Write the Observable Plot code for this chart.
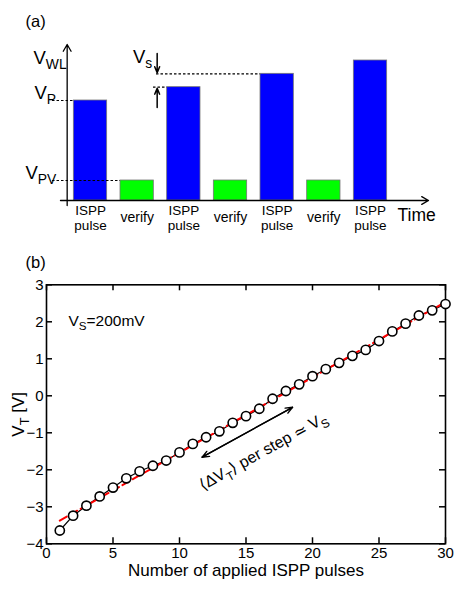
<!DOCTYPE html>
<html>
<head>
<meta charset="utf-8">
<script src="https://cdn.jsdelivr.net/npm/d3@7"></script>
<script src="https://cdn.jsdelivr.net/npm/@observablehq/plot@0.6"></script>
<style>
  html, body { margin: 0; padding: 0; background: #fff; }
  #wrap { position: relative; width: 471px; height: 589px; font-family: "Liberation Sans", Arial, Helvetica, sans-serif; }
  #wrap svg { display: block; font-family: "Liberation Sans", Arial, Helvetica, sans-serif; }
</style>
</head>
<body>
<div id="wrap"></div>
<script>
// ---------------- Panel (a) schematic data ----------------
const slotTypes = ["ISPP", "verify", "ISPP", "verify", "ISPP", "verify", "ISPP"];
const slotLevels = [7.5, 1.5, 8.5, 1.5, 9.5, 1.5, 10.5]; // V_P = 7.5, V_PV = 1.5, V_S = 1 (schematic units)
const slotLabels = ["ISPP\npulse", "verify", "ISPP\npulse", "verify", "ISPP\npulse", "verify", "ISPP\npulse"];
const pulseColor = "#0000ff";
const verifyColor = "#00ff00";

// ---------------- Panel (b) data ----------------
const pulseNumber = [1,2,3,4,5,6,7,8,9,10,11,12,13,14,15,16,17,18,19,20,21,22,23,24,25,26,27,28,29,30];
const thresholdV = [-3.64,-3.24,-2.97,-2.72,-2.48,-2.23,-2.04,-1.89,-1.75,-1.53,
                    -1.30,-1.12,-0.96,-0.73,-0.55,-0.35,-0.08,0.13,0.31,0.53,
                    0.72,0.89,1.08,1.24,1.48,1.74,1.95,2.17,2.31,2.48];
const xTicks = [0, 5, 10, 15, 20, 25, 30];
const yTicks = [-4, -3, -2, -1, 0, 1, 2, 3];
const stepArrow = {xStart: 11.7, yStart: -1.66, xEnd: 18.5, yEnd: -0.31};

const FONT = "Liberation Sans, Arial, Helvetica, sans-serif";

// subscript post-processing: "V_{T}" -> V with subscript T
function applySubscripts(svg) {
  d3.select(svg).selectAll("text").each(function () {
    if (this.querySelector("tspan")) return;
    const t = this.textContent;
    if (!t.includes("_{")) return;
    const fs = parseFloat(getComputedStyle(this).fontSize) || 16;
    const shift = fs * 0.3;
    const parts = t.split(/(_\{[^}]*\})/).filter(p => p.length);
    this.textContent = "";
    let lowered = false;
    for (const p of parts) {
      const m = p.match(/^_\{(.*)\}$/);
      const ts = d3.select(this).append("tspan");
      if (m) {
        ts.text(m[1]).attr("font-size", (fs * 0.75) + "px");
        if (!lowered) { ts.attr("dy", shift); lowered = true; }
      } else {
        ts.text(p);
        if (lowered) { ts.attr("dy", -shift); lowered = false; }
      }
    }
  });
}

// ---------------- Panel (a) ----------------
const slots = slotTypes.map((type, i) => ({i, type, level: slotLevels[i], label: slotLabels[i]}));
const VP = slotLevels[0], VPV = slotLevels[1];
const hw = 0.357; // half bar width in slot units

const chartA = Plot.plot({
  width: 471,
  height: 240,
  marginTop: 0, marginBottom: 0, marginLeft: 0, marginRight: 0,
  x: {domain: [-1.9286, 8.1643], axis: null},
  y: {domain: [-3, 15], axis: null},
  style: {fontFamily: FONT, background: "transparent"},
  marks: [
    Plot.rectY(slots, {
      x1: d => d.i - hw, x2: d => d.i + hw, y1: 0, y2: "level",
      fill: d => d.type === "ISPP" ? pulseColor : verifyColor,
      stroke: "#777", strokeWidth: 0.8
    }),
    // dashed reference levels
    Plot.ruleY([VP], {x1: -0.814, x2: -hw, strokeDasharray: "2.5,2", strokeWidth: 1.2}),
    Plot.ruleY([VPV], {x1: -0.814, x2: 1 - hw, strokeDasharray: "2.5,2", strokeWidth: 1.2}),
    Plot.ruleY([slotLevels[4]], {x1: 1.414, x2: 4 - hw, strokeDasharray: "2.5,2", strokeWidth: 1.2}),
    Plot.ruleY([slotLevels[2]], {x1: 1.35, x2: 2 - hw, strokeDasharray: "2.5,2", strokeWidth: 1.2}),
    // axes arrows
    Plot.arrow([{x1: -0.643, y1: 0, x2: 7.243, y2: 0}], {
      x1: "x1", y1: "y1", x2: "x2", y2: "y2", strokeWidth: 1.3, headLength: 9, headAngle: 60
    }),
    Plot.arrow([{x1: -0.5, y1: -0.375, x2: -0.5, y2: 11.7}], {
      x1: "x1", y1: "y1", x2: "x2", y2: "y2", strokeWidth: 1.3, headLength: 9, headAngle: 60
    }),
    // V_S arrows
    Plot.arrow([
      {x1: 1.4286, y1: 11.03, x2: 1.4286, y2: slotLevels[4] + 0.08},
      {x1: 1.4286, y1: 6.975, x2: 1.4286, y2: slotLevels[2] - 0.08}
    ], {x1: "x1", y1: "y1", x2: "x2", y2: "y2", strokeWidth: 1.5, headLength: 7, headAngle: 45}),
    // axis-side labels
    Plot.text([
      {x: -1.221, y: 10.275, t: "V_{WL}"},
      {x: -1.2, y: 7.65, t: "V_{P}"},
      {x: -1.393, y: 1.65, t: "V_{PV}"},
      {x: 0.91, y: 10.35, t: "V_{s}"}
    ], {x: "x", y: "y", text: "t", textAnchor: "start", lineAnchor: "bottom", fontSize: 18.5, fill: "#000"}),
    Plot.text([{x: 6.579, y: -1.5, t: "Time"}], {
      x: "x", y: "y", text: "t", textAnchor: "start", lineAnchor: "bottom", fontSize: 17.5, fill: "#000"
    }),
    Plot.text(slots.filter(d => d.type === "ISPP"), {
      x: "i", y: -0.3, text: "label", lineAnchor: "top", lineHeight: 1.12, fontSize: 13.5, fill: "#000"
    }),
    Plot.text(slots.filter(d => d.type === "verify"), {
      x: "i", y: -1.575, text: "label", lineAnchor: "bottom", fontSize: 14, fill: "#000"
    }),
    Plot.text([{x: -1.393, y: 13.0, t: "(a)"}], {
      x: "x", y: "y", text: "t", textAnchor: "start", lineAnchor: "bottom", fontSize: 16.5, fill: "#000"
    })
  ]
});

// ---------------- Panel (b) ----------------
const points = pulseNumber.map((n, i) => ({n, v: thresholdV[i]}));
const W = 471, H = 349, mL = 46, mR = 26, mT = 44.3, mB = 45.7;
const plotW = W - mL - mR, plotH = H - mT - mB;
const tick = 6;

const chartB = Plot.plot({
  width: W,
  height: H,
  marginLeft: mL, marginRight: mR, marginTop: mT, marginBottom: mB,
  x: {domain: [0, 30]},
  y: {domain: [-4, 3]},
  style: {fontFamily: FONT, background: "transparent", color: "#000"},
  marks: [
    Plot.axisX(xTicks, {tickSize: 0, tickPadding: 3.5, fontSize: 15, label: null, fill: "#000"}),
    Plot.axisY(yTicks, {tickSize: 0, tickPadding: 3, fontSize: 15, label: null, fill: "#000"}),
    // inward ticks on all four sides
    Plot.ruleX(xTicks, {insetTop: plotH - tick, strokeWidth: 1.5}),
    Plot.ruleX(xTicks, {insetBottom: plotH - tick, strokeWidth: 1.5}),
    Plot.ruleY(yTicks, {insetRight: plotW - tick, strokeWidth: 1.5}),
    Plot.ruleY(yTicks, {insetLeft: plotW - tick, strokeWidth: 1.5}),
    Plot.frame({stroke: "#000", strokeWidth: 1.6}),
    Plot.line(points, {x: "n", y: "v", stroke: "#000", strokeWidth: 1.2}),
    Plot.linearRegressionY(points, {x: "n", y: "v", ci: 0, stroke: "#ff0000", strokeWidth: 2, strokeDasharray: "8,4"}),
    Plot.dot(points, {x: "n", y: "v", r: 4.6, stroke: "#000", strokeWidth: 1.6, fill: "#fff"}),
    Plot.arrow([
      {x1: stepArrow.xStart, y1: stepArrow.yStart, x2: stepArrow.xEnd, y2: stepArrow.yEnd},
      {x1: stepArrow.xEnd, y1: stepArrow.yEnd, x2: stepArrow.xStart, y2: stepArrow.yStart}
    ], {x1: "x1", y1: "y1", x2: "x2", y2: "y2", strokeWidth: 1.4, headLength: 8, headAngle: 45}),
    Plot.text([{x: 16.3, y: -1.5, t: "⟨ΔV_{T}⟩ per step ≃ V_{S}"}], {
      x: "x", y: "y", text: "t", rotate: -29, fontSize: 16, fill: "#000"
    }),
    Plot.text([{x: 1.65, y: 1.9, t: "V_{S}=200mV"}], {
      x: "x", y: "y", text: "t", textAnchor: "start", lineAnchor: "bottom", fontSize: 15.5, fill: "#000"
    }),
    Plot.text(["V_{T} [V]"], {frameAnchor: "left", textAnchor: "middle", rotate: -90, dx: -23, lineAnchor: "bottom", fontSize: 17, fill: "#000"}),
    Plot.text(["Number of applied ISPP pulses"], {frameAnchor: "bottom", dy: 31.7, lineAnchor: "bottom", fontSize: 17, fill: "#000"}),
    Plot.text(["(b)"], {frameAnchor: "top-left", dx: -21, dy: -17, textAnchor: "start", lineAnchor: "bottom", fontSize: 16.5, fill: "#000"})
  ]
});

const wrap = document.getElementById("wrap");
wrap.appendChild(chartA);
wrap.appendChild(chartB);
applySubscripts(chartA);
applySubscripts(chartB);
</script>
</body>
</html>
